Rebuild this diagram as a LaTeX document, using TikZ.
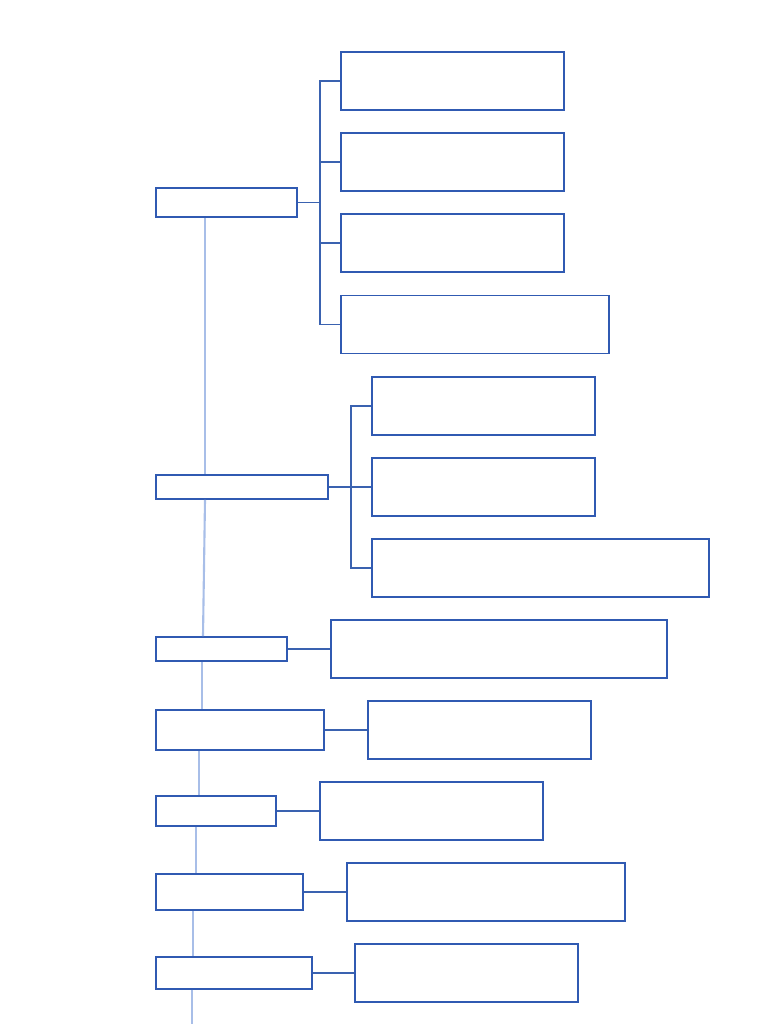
\documentclass[tikz,border=0pt]{standalone}
\usepackage{xcolor}
\usepackage{tikz}

\definecolor{boxblue}{RGB}{48,90,178}
\definecolor{spineblue}{RGB}{168,190,232}
\definecolor{linkblue}{RGB}{58,98,176}

\begin{document}
\begin{tikzpicture}[
            box/.style = {draw=boxblue, line width=1.1pt, rectangle,
                        anchor=west, inner sep=0pt},
            link/.style = {draw=linkblue, line width=1pt},
            spine/.style = {draw=spineblue, line width=1.2pt}]
            \useasboundingbox (0,0) rectangle (15.36,-20.48);
            % Left column
            \node[box,minimum width=2.82cm,minimum height=0.58cm] (L1) at (3.1,-4.05) {};
            \node[box,minimum width=3.44cm,minimum height=0.48cm] (L2) at (3.1,-9.74) {};
            \node[box,minimum width=2.62cm,minimum height=0.48cm] (L3) at (3.1,-12.98) {};
            \node[box,minimum width=3.36cm,minimum height=0.8cm] (L4) at (3.1,-14.6) {};
            \node[box,minimum width=2.40cm,minimum height=0.6cm] (L5) at (3.1,-16.22) {};
            \node[box,minimum width=2.94cm,minimum height=0.72cm] (L6) at (3.1,-17.84) {};
            \node[box,minimum width=3.12cm,minimum height=0.64cm] (L7) at (3.1,-19.46) {};
            % Right boxes, first group
            \node[box,minimum width=4.46cm,minimum height=1.16cm] (R1a) at (6.8,-1.62) {};
            \node[box,minimum width=4.46cm,minimum height=1.16cm] (R1b) at (6.8,-3.24) {};
            \node[box,minimum width=4.46cm,minimum height=1.16cm] (R1c) at (6.8,-4.86) {};
            \node[box,minimum width=5.36cm,minimum height=1.16cm] (R1d) at (6.8,-6.49) {};
            % Right boxes, second group
            \node[box,minimum width=4.46cm,minimum height=1.16cm] (R2a) at (7.42,-8.12) {};
            \node[box,minimum width=4.46cm,minimum height=1.16cm] (R2b) at (7.42,-9.74) {};
            \node[box,minimum width=6.74cm,minimum height=1.16cm] (R2c) at (7.42,-11.36) {};
            % Right boxes, single
            \node[box,minimum width=6.72cm,minimum height=1.16cm] (R3) at (6.6,-12.98) {};
            \node[box,minimum width=4.46cm,minimum height=1.16cm] (R4) at (7.34,-14.6) {};
            \node[box,minimum width=4.46cm,minimum height=1.16cm] (R5) at (6.38,-16.22) {};
            \node[box,minimum width=5.56cm,minimum height=1.16cm] (R6) at (6.92,-17.84) {};
            \node[box,minimum width=4.46cm,minimum height=1.16cm] (R7) at (7.08,-19.46) {};
            % Brackets
            \draw[link] (L1.east) -- ++(0.44,0) coordinate (b1);
            \foreach \r in {R1a,R1b,R1c,R1d}
                \draw[link] (\r.west) -| (b1);
            \draw[link] (L2.east) -- ++(0.44,0) coordinate (b2);
            \foreach \r in {R2a,R2b,R2c}
                \draw[link] (\r.west) -| (b2);
            % Single links
            \foreach \l/\r in {L3/R3,L4/R4,L5/R5,L6/R6,L7/R7}
                \draw[link] (\l.east) -- (\r.west);
            % Spine
            \foreach \a/\b/\xa/\xb in {L1/L2/4.1/4.1,L2/L3/4.1/4.06,L3/L4/4.04/4.04,
                                        L4/L5/3.98/3.98,L5/L6/3.92/3.92,L6/L7/3.86/3.86}
                \draw[spine] (\xa,0 |- \a.south) -- (\xb,0 |- \b.north);
            \coordinate (tail) at (3.84,-20.48);
            \draw[spine] (3.84,0 |- L7.south) -- (tail);
        \end{tikzpicture}
\end{document}
